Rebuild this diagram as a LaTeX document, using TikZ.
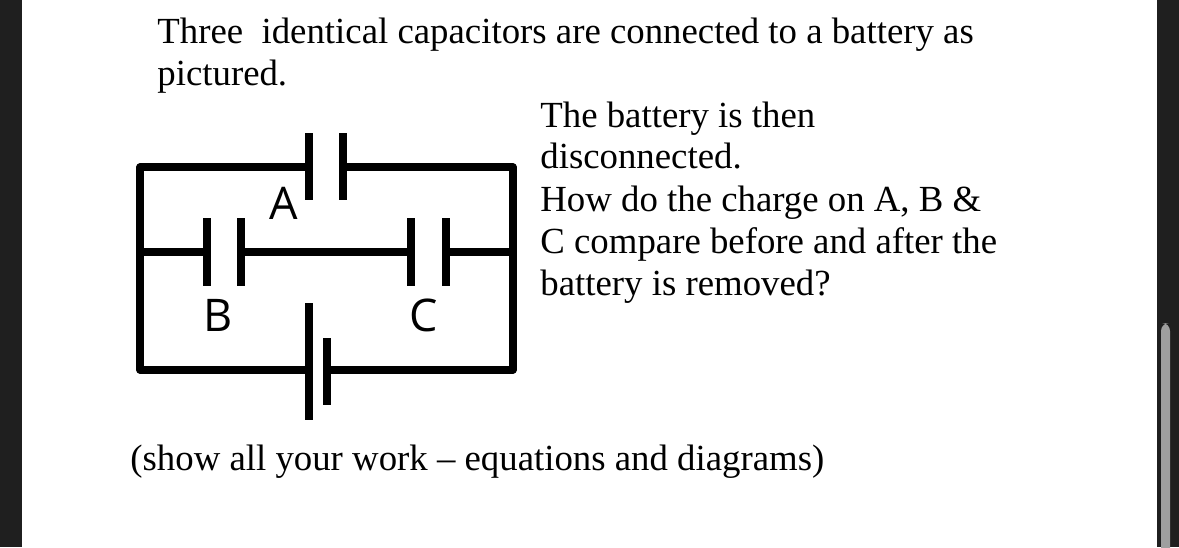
\documentclass[tikz,border=0pt]{standalone}
\usepackage{fontspec}
\setmainfont{Liberation Serif}
\newfontfamily\lblfont{Open Sans}
\begin{document}
\begin{tikzpicture}[x=0.5pt,y=-0.5pt,
  wire/.style={line width=3.6pt},
  txt/.style={anchor=base west,inner sep=0,font=\fontsize{18.4}{21}\selectfont},
  lbl/.style={inner sep=0,font=\lblfont\fontsize{22.5}{25}\selectfont}]
\useasboundingbox (0,0) rectangle (1179,547);
\fill[white] (0,0) rectangle (1179,547);
\fill[black!88] (0,0) rectangle (22,547);
\fill[black!88] (1157,0) rectangle (1179,547);
\fill[gray!75,rounded corners=4pt] (1161,323) rectangle (1170,560);
% text
\node[txt] (t1) at (157,43) {Three\ \ identical capacitors are connected to a battery as};
\node[txt] (t2) at (157,85) {pictured.};
\node[txt] (r1) at (540,127) {The battery is then};
\node[txt] (r2) at (540,168) {disconnected.};
\node[txt] (r3) at (540,211) {How do the charge on A, B \&};
\node[txt] (r4) at (540,253) {C compare before and after the};
\node[txt] (r5) at (540,295) {battery is removed?};
\node[txt] (b1) at (130,470) {(show all your work -- equations and diagrams)};
% circuit coordinates
\coordinate (TL) at (140,167); \coordinate (TR) at (513,167);
\coordinate (ML) at (140,252); \coordinate (MR) at (513,252);
\coordinate (BL) at (140,370); \coordinate (BR) at (513,370);
\coordinate (A1) at (309,167); \coordinate (A2) at (343,167);
\coordinate (B1) at (207,252); \coordinate (B2) at (241,252);
\coordinate (C1) at (411,252); \coordinate (C2) at (446,252);
\coordinate (V1) at (309,370); \coordinate (V2) at (327,370);
\draw[wire,line join=round] (A1) -- (TL) -- (BL) -- (V1);
\draw[wire,line join=round] (A2) -- (TR) -- (BR) -- (V2);
\draw[wire] (ML) -- (B1);
\draw[wire] (B2) -- (C1);
\draw[wire] (C2) -- (MR);
% plates
\draw[wire] (309,133) -- (309,200);
\draw[wire] (343,133) -- (343,200);
\draw[wire] (207,218) -- (207,286);
\draw[wire] (241,218) -- (241,286);
\draw[wire] (411,218) -- (411,286);
\draw[wire] (446,218) -- (446,286);
\draw[wire] (309,303) -- (309,420);
\draw[wire] (327,338) -- (327,405);
\node[lbl] (la) at (284,203) {A};
\node[lbl] (lb) at (218,315) {B};
\node[lbl] (lc) at (424,315) {C};
\end{tikzpicture}
\end{document}
